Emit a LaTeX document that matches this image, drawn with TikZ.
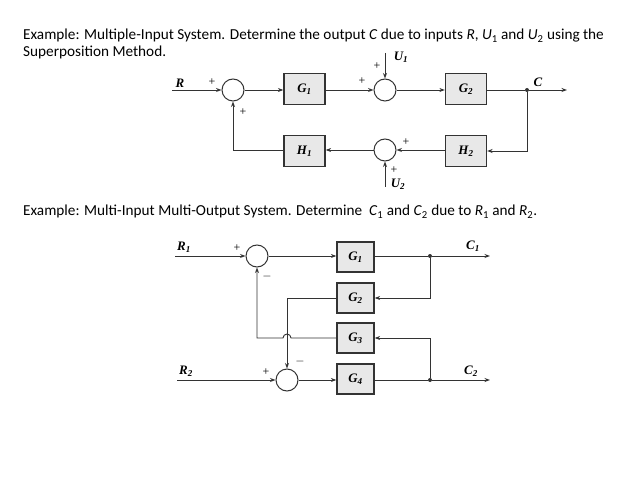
\documentclass[tikz,border=0pt]{standalone}
\usepackage{fontspec}
\setmainfont{Carlito}
\newfontfamily\labf{Liberation Serif}
\usetikzlibrary{arrows.meta}
\definecolor{ln}{HTML}{333333}
\tikzset{
  sum/.style={circle, draw=ln, line width=1pt, minimum size=22bp, inner sep=0pt},
  blk/.style={draw=ln, fill=gray!18, line width=1.3pt, minimum width=41bp, minimum height=31bp, inner sep=0pt, font=\labf\bfseries\itshape\fontsize{13}{15}\selectfont},
  blk2/.style={blk, minimum width=37bp, minimum height=30bp},
  wire/.style={draw=ln, line width=0.9pt},
  arr/.style={wire, -{Stealth[length=5.5bp,width=4bp]}},
  lab/.style={font=\labf\bfseries\itshape\fontsize{13}{15}\selectfont, inner sep=0pt},
  sgn/.style={font=\labf\fontsize{12}{14}\selectfont, inner sep=0pt},
  dot/.style={circle, fill=ln, minimum size=4bp, inner sep=0pt},
  head/.style={font=\fontsize{15.3}{18}\selectfont, inner sep=0pt, anchor=base west}
}
\begin{document}
\begin{tikzpicture}[x=1bp,y=-1bp]
\useasboundingbox (0,0) rectangle (638,478);
% headings
\node[head] (h1) at (23,40) {Example: Multiple-Input System. Determine the output \textit{C} due to inputs \textit{R}, \textit{U}\textsubscript{1} and \textit{U}\textsubscript{2} using the};
\node[head] (h2) at (23,57) {Superposition Method.};
\node[head] (h3) at (23,216) {Example: Multi-Input Multi-Output System. Determine\ \ \textit{C}\textsubscript{1} and \textit{C}\textsubscript{2} due to \textit{R}\textsubscript{1} and \textit{R}\textsubscript{2}.};

% ---------- diagram 1
\coordinate (Rin) at (172,90);
\node[sum] (s1) at (233,90) {};
\node[blk] (G1) at (304.5,89) {G\textsubscript{1}};
\node[sum] (s2) at (385,90) {};
\node[blk] (G2) at (466,89) {G\textsubscript{2}};
\node[dot] (jC) at (527,90) {};
\coordinate (Cout) at (567,90);
\node[blk] (H1) at (304.5,151) {H\textsubscript{1}};
\node[sum] (s3) at (385,150) {};
\node[blk] (H2) at (466,151) {H\textsubscript{2}};
\coordinate (U1in) at (385,53);
\coordinate (U2in) at (385,187);

\draw[arr] (Rin) -- (s1.west);
\draw[arr] (s1.east) -- (G1.west |- s1.east);
\draw[arr] (G1.east |- s2.west) -- (s2.west);
\draw[arr] (s2.east) -- (G2.west |- s2.east);
\draw[wire] (G2.east |- jC) -- (jC);
\draw[arr] (jC) -- (Cout);
\draw[arr] (jC) -- (jC |- H2.east) -- (H2.east);
\draw[arr] (H2.west |- s3.east) -- (s3.east);
\draw[arr] (s3.west) -- (H1.east |- s3.west);
\draw[arr] (H1.west |- s3.west) -- (s1 |- s3.west) -- (s1.south);
\draw[arr] (U1in) -- (s2.north);
\draw[arr] (U2in) -- (s3.south);

\node[lab] (lR) at (180,83) {R};
\node[lab] (lC) at (538,82) {C};
\node[lab] (lU1) at (401,57) {U\textsubscript{1}};
\node[lab] (lU2) at (398,184) {U\textsubscript{2}};
\node[sgn] (p1) at (212,82) {+};
\node[sgn] (p2) at (243,112) {+};
\node[sgn] (p3) at (362,81) {+};
\node[sgn] (p4) at (377,66) {+};
\node[sgn] (p5) at (406,142) {+};
\node[sgn] (p6) at (394,170) {+};

% ---------- diagram 2
\coordinate (R1in) at (175,256);
\coordinate (R2in) at (177,380);
\node[sum] (sa) at (257,256) {};
\node[sum] (sb) at (287,380) {};
\node[blk2] (B1) at (355.5,257) {G\textsubscript{1}};
\node[blk2] (B2) at (355.5,298) {G\textsubscript{2}};
\node[blk2] (B3) at (355.5,338) {G\textsubscript{3}};
\node[blk2] (B4) at (355.5,379) {G\textsubscript{4}};
\node[dot] (j1) at (430,256) {};
\node[dot] (j2) at (430,380) {};
\coordinate (C1out) at (490,256);
\coordinate (C2out) at (490,380);

\draw[arr] (R1in) -- (sa.west);
\draw[arr] (sa.east) -- (B1.west |- sa.east);
\draw[wire] (B1.east |- j1) -- (j1);
\draw[arr] (j1) -- (C1out);
\draw[arr] (j1) -- (j1 |- B2.east) -- (B2.east);
\draw[arr] (B2.west) -- (sb |- B2.west) -- (sb.north);
\draw[arr] (B3.west) -- ([xshift=4bp]sb |- B3.west) arc (0:180:4bp) -- (sa |- B3.west) -- (sa.south);
\draw[arr] (j2) -- (j2 |- B3.east) -- (B3.east);
\draw[arr] (R2in) -- (sb.west);
\draw[arr] (sb.east) -- (B4.west |- sb.east);
\draw[wire] (B4.east |- j2) -- (j2);
\draw[arr] (j2) -- (C2out);

\node[lab] (lR1) at (184,247) {R\textsubscript{1}};
\node[lab] (lR2) at (186,371) {R\textsubscript{2}};
\node[lab] (lC1) at (473,246) {C\textsubscript{1}};
\node[lab] (lC2) at (471,371) {C\textsubscript{2}};
\node[sgn] (q1) at (237,248) {+};
\node[sgn] (q2) at (267,277) {$-$};
\node[sgn] (q3) at (266,372) {+};
\node[sgn] (q4) at (300,362) {$-$};
\end{tikzpicture}
\end{document}
